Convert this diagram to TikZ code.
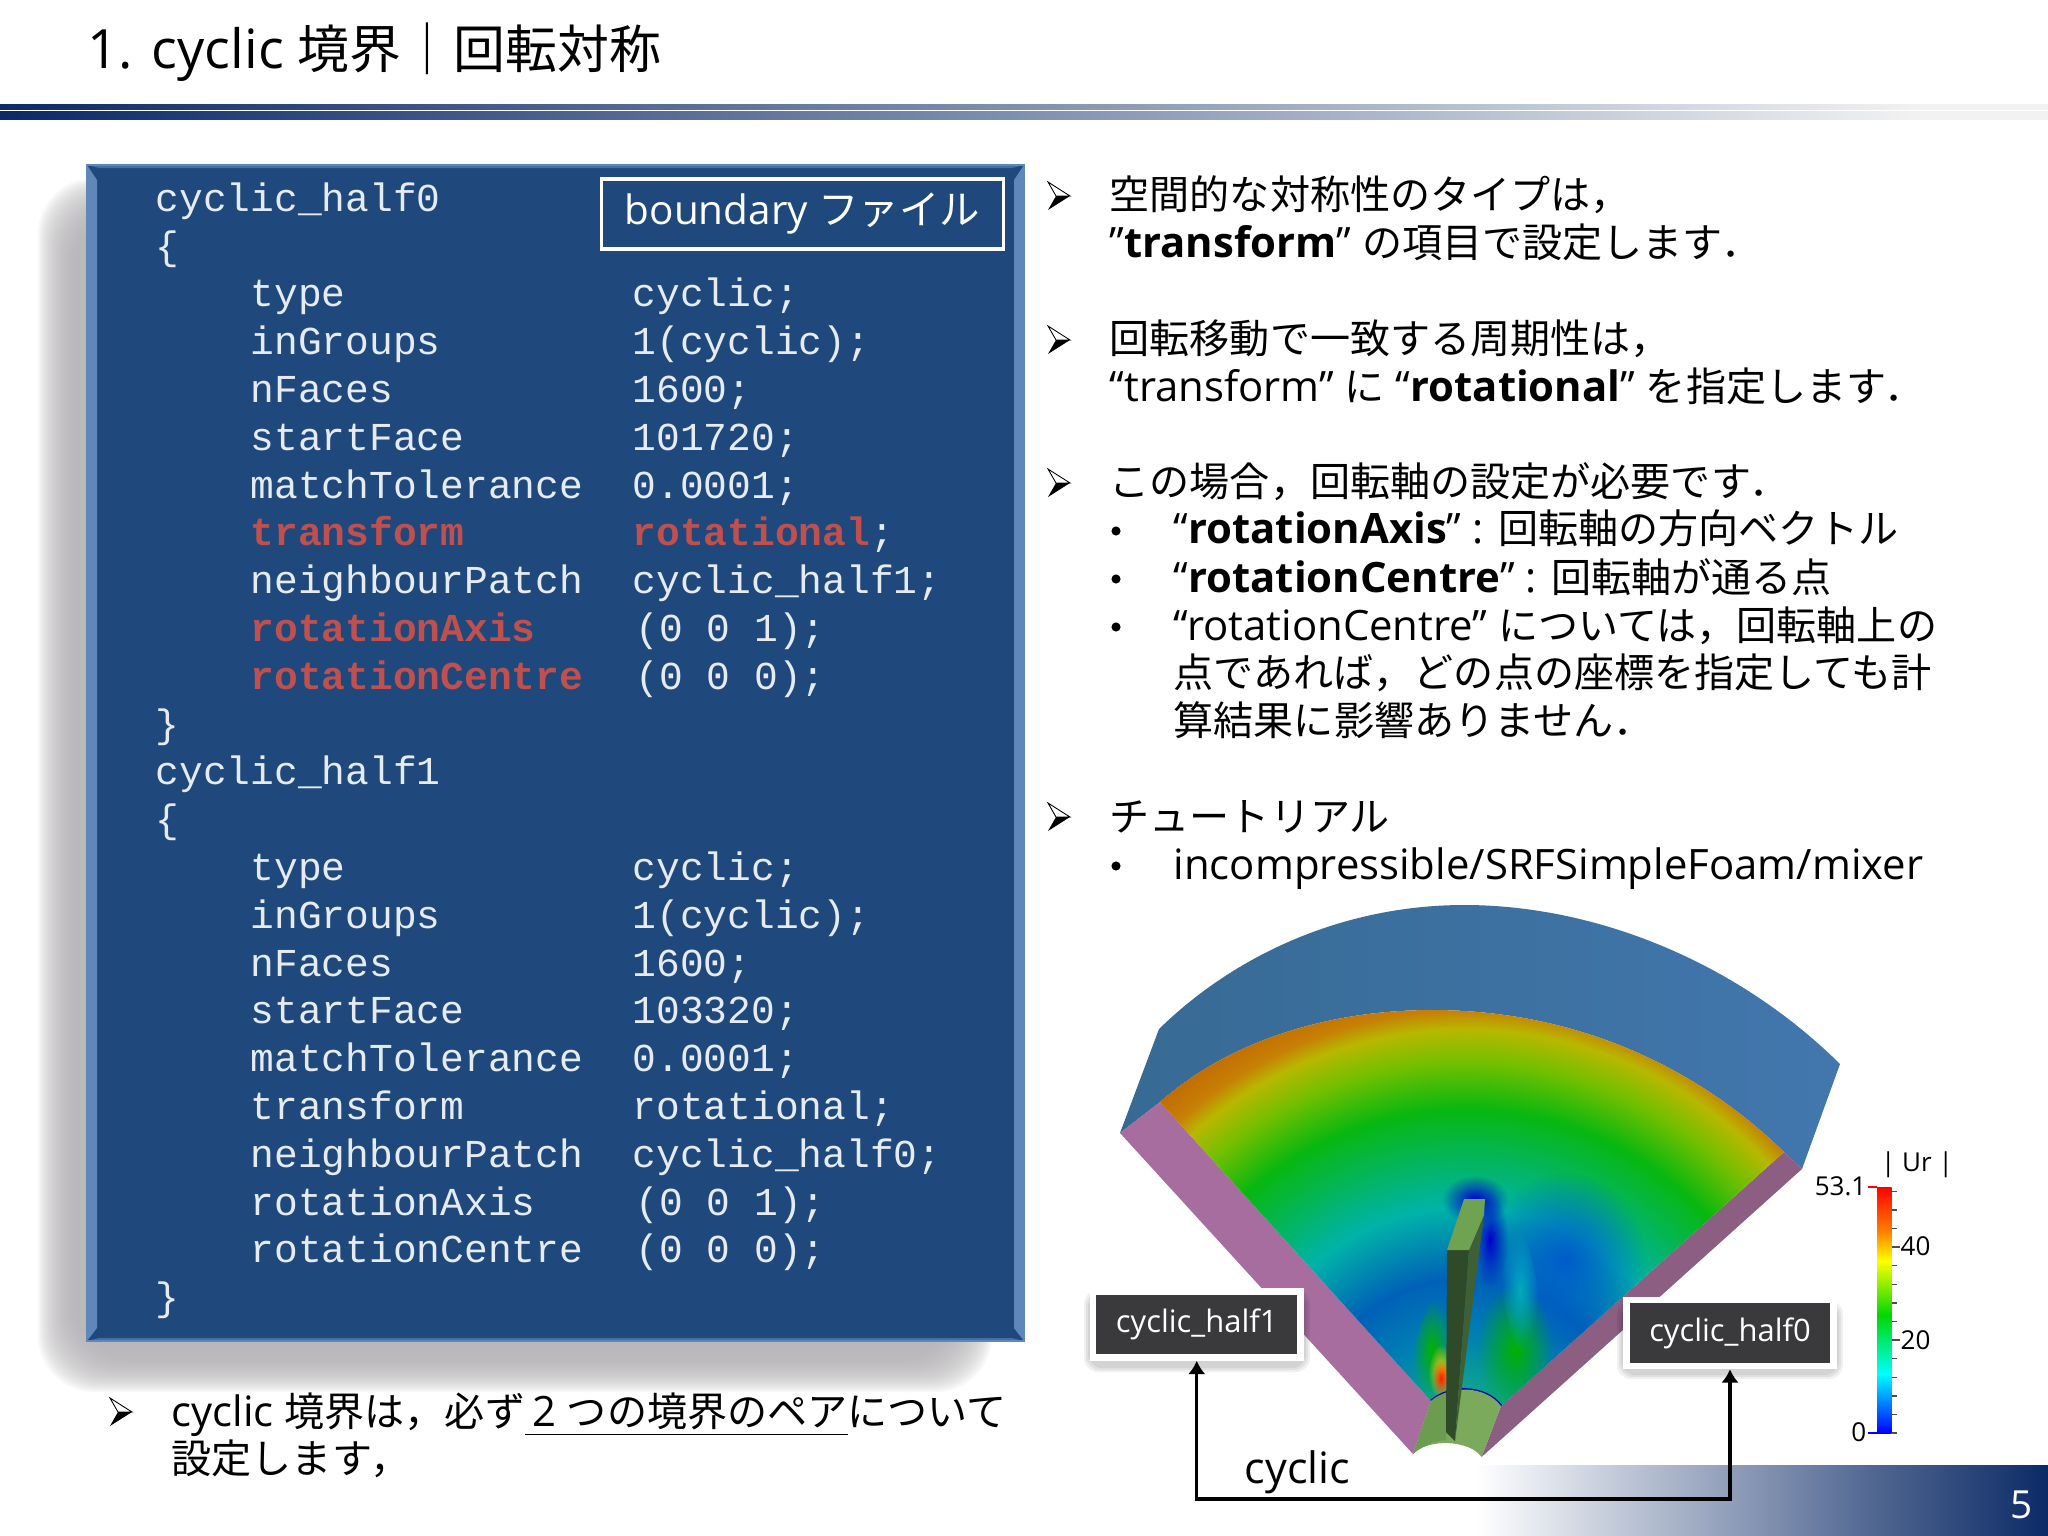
\documentclass[tikz,border=0pt]{standalone}
\usepackage{fontspec}
\setmainfont{Open Sans}
\setmonofont{Liberation Mono}
\newfontfamily\cjk[Scale=0.958]{Noto Sans CJK JP}
\usetikzlibrary{arrows.meta,fadings}
\pgfdeclareradialshading{softshade}{\pgfpoint{0bp}{0bp}}{color(0bp)=(white); color(18bp)=(black); color(50bp)=(black)}
\pgfdeclarefading{softblob}{\pgfuseshading{softshade}}
\definecolor{navy}{HTML}{0B2A66}
\definecolor{panel}{HTML}{1F497D}
\definecolor{bevel}{HTML}{5F87BA}
\definecolor{codered}{HTML}{C0504D}
\definecolor{codewhite}{HTML}{E6EBF2}
\definecolor{shadowc}{HTML}{B5B2B5}
\definecolor{wallL}{HTML}{376A93}
\definecolor{wallR}{HTML}{4277AE}
\definecolor{pinkL}{HTML}{A76D9E}
\definecolor{pinkR}{HTML}{8C5F82}
\definecolor{labeldark}{HTML}{3A3A3C}
\definecolor{bladeA}{HTML}{2F4A28}
\definecolor{bladeB}{HTML}{3E6034}
\definecolor{bladeC}{HTML}{6FA352}
\definecolor{hubc}{HTML}{7BAA5C}
\definecolor{hubd}{HTML}{6C9C50}
\newcommand\J[1]{{\cjk #1}}
\newcommand\Rd[1]{\textcolor{codered}{\bfseries #1}}
\pgfdeclarehorizontalshading{rulefade}{100bp}{color(0bp)=(navy); color(25bp)=(navy); color(50bp)=(navy!52!white); color(72bp)=(white!95!black); color(75bp)=(white!95!black); color(100bp)=(white!95!black)}
\pgfdeclarehorizontalshading{footfade}{100bp}{color(0bp)=(white); color(25bp)=(white); color(47bp)=(navy!45!white); color(60bp)=(navy!72!white); color(75bp)=(navy); color(100bp)=(navy)}
\pgfdeclareverticalshading{rainbowbar}{100bp}{color(0bp)=(blue); color(25bp)=(blue); color(37bp)=(cyan); color(49bp)=(green!85!black); color(60bp)=(yellow); color(66bp)=(orange); color(75bp)=(red); color(100bp)=(red)}
\pgfdeclareradialshading{fieldshade}{\pgfpoint{0bp}{0bp}}{%
 rgb(0bp)=(0.10,0.62,0.50);
 rgb(2.5bp)=(0.05,0.65,0.55);
 rgb(5.5bp)=(0.0,0.50,0.70);
 rgb(8.5bp)=(0.0,0.38,0.72);
 rgb(12.25bp)=(0.0,0.70,0.66);
 rgb(17.5bp)=(0.03,0.72,0.06);
 rgb(20bp)=(0.45,0.75,0.0);
 rgb(21.75bp)=(0.72,0.72,0.0);
 rgb(22.75bp)=(0.78,0.50,0.02);
 rgb(25bp)=(0.75,0.38,0.0);
 rgb(50bp)=(0.75,0.38,0.0)}
\tikzset{
 x=0.01cm,y=-0.01cm,
 codeline/.style={anchor=base west,inner sep=0pt,text=codewhite,font=\ttfamily\fontsize{11.25}{13}\selectfont},
 bodyline/.style={anchor=base west,inner sep=0pt,text=black,font=\fontsize{11.9}{14}\selectfont},
 tag/.style={fill=labeldark,draw=white,line width=1.85pt,text=white,minimum width=2.07cm,minimum height=0.66cm,inner sep=0pt,font=\fontsize{8.8}{11}\selectfont},
 scaletext/.style={anchor=base,inner sep=0pt,text=black,font=\fontsize{7.4}{9}\selectfont},
 arrowbullet/.pic={
  \fill[white] (0,-14) -- (22,0) -- (8,0) -- cycle;
  \draw[line width=0.25pt] (0,-14) -- (22,0) -- (8,0) -- cycle;
  \fill[black] (0,14) -- (22,0) -- (8,0) -- cycle;
 },
 dot/.style={circle,fill=black,inner sep=0pt,minimum size=2.6pt},
}
\begin{document}
\begin{tikzpicture}
\useasboundingbox (0,0) rectangle (2048,1536);
\fill[white] (0,0) rectangle (2048,1536);
% header
\node[anchor=base west,inner sep=0pt,font=\fontsize{15.4}{18}\selectfont] (title) at (87,68) {1. cyclic \J{境界｜回転対称}};
\shade[shading=rulefade] (0,104) rectangle (2048,109);
\shade[shading=rulefade] (0,111) rectangle (2048,119.5);
% footer
\shade[shading=footfade] (1476,1465) rectangle (2048,1536);
\node[anchor=base,inner sep=0pt,text=white,font=\fontsize{11}{13}\selectfont] (pageno) at (2022,1518) {5};
% panel shadow
\foreach \s in {0,2,...,36}{
 \fill[shadowc,fill opacity=0.1,rounded corners=16] ({38+\s},{178+\s}) rectangle ({992-\s},{1392-\s});
}
% panel
\fill[panel] (87,165) rectangle (1024,1341);
\fill[bevel] (87,165) -- (97,180) -- (97,1328) -- (87,1341) -- cycle;
\fill[bevel] (1024,165) -- (1014,180) -- (1014,1328) -- (1024,1341) -- cycle;
\fill[bevel!60!panel] (87,165) -- (99,168) -- (1012,168) -- (1024,165) -- cycle;
\fill[bevel!60!panel] (87,1341) -- (99,1338) -- (1012,1338) -- (1024,1341) -- cycle;
\draw[bevel,line width=0.4pt] (87,165) rectangle (1024,1341);
% code
\foreach \i/\t in {0/cyclic\_half0,1/\{,11/\},12/cyclic\_half1,13/\{,23/\}}{
 \pgfmathsetmacro\yy{211.3+47.8*\i}
 \node[codeline] (h\i) at (155,\yy) {\t};
}
\foreach \i/\k/\v in {
 2/type/cyclic;,
 3/inGroups/1(cyclic);,
 4/nFaces/1600;,
 5/startFace/101720;,
 6/matchTolerance/0.0001;,
 7/\Rd{transform}/\Rd{rotational};,
 8/neighbourPatch/cyclic\_half1;,
 14/type/cyclic;,
 15/inGroups/1(cyclic);,
 16/nFaces/1600;,
 17/startFace/103320;,
 18/matchTolerance/0.0001;,
 19/transform/rotational;,
 20/neighbourPatch/cyclic\_half0;}{
 \pgfmathsetmacro\yy{211.3+47.8*\i}
 \node[codeline] (k\i) at (250,\yy) {\k};
 \node[codeline] (v\i) at (632,\yy) {\v};
}
\foreach \i/\k/\v in {
 9/\Rd{rotationAxis}/{(0 0 1);},
 10/\Rd{rotationCentre}/{(0 0 0);},
 21/rotationAxis/{(0 0 1);},
 22/rotationCentre/{(0 0 0);}}{
 \pgfmathsetmacro\yy{211.3+47.8*\i}
 \node[codeline] (k\i) at (250,\yy) {\k};
 \node[codeline] (v\i) at (635,\yy) {\v};
}
\node[draw=white,line width=0.9pt,text=white,minimum width=4.01cm,minimum height=0.7cm,inner sep=0pt,font=\fontsize{11.5}{14}\selectfont] (bfile) at (802.5,214) {boundary {\fontsize{12}{14}\selectfont\J{ファイル}}};
% bottom-left text
\pic at (110,1412) {arrowbullet};
\node[bodyline] (b1) at (171,1426) {cyclic \J{境界は，必ず}\underline{\,2 \J{つの境界のペア}}\J{について}};
\node[bodyline] (b2) at (171,1473) {\J{設定します，}};
% right text
\pic at (1048,196) {arrowbullet};
\node[bodyline] (r1) at (1109,209) {\J{空間的な対称性のタイプは，}};
\node[bodyline] (r2) at (1109,257) {”\textbf{transform}” \J{の項目で設定します．}};
\pic at (1048,340) {arrowbullet};
\node[bodyline] (r3) at (1109,353) {\J{回転移動で一致する周期性は，}};
\node[bodyline] (r4) at (1109,401) {“transform” \J{に} “\textbf{rotational}” \J{を指定します．}};
\pic at (1048,483) {arrowbullet};
\node[bodyline] (r5) at (1109,496) {\J{この場合，回転軸の設定が必要です．}};
\node[dot] (d1) at (1116,531) {};
\node[bodyline] (r6) at (1173,543) {“\textbf{rotationAxis}” : \J{回転軸の方向ベクトル}};
\node[dot] (d2) at (1116,579) {};
\node[bodyline] (r7) at (1173,592) {“\textbf{rotationCentre}” : \J{回転軸が通る点}};
\node[dot] (d3) at (1116,627) {};
\node[bodyline] (r8) at (1173,640) {“rotationCentre” \J{については，回転軸上の}};
\node[bodyline] (r9) at (1173,687) {\J{点であれば，どの点の座標を指定しても計}};
\node[bodyline] (r10) at (1173,735) {\J{算結果に影響ありません．}};
\pic at (1048,817) {arrowbullet};
\node[bodyline] (r11) at (1109,831) {\J{チュートリアル}};
\node[dot] (d4) at (1116,866) {};
\node[bodyline] (r12) at (1173,879) {incompressible/SRFSimpleFoam/mixer};
% mixer: outer wall
\shade[left color=wallL,right color=wallR]
 (1159,1029) .. controls (1240,950) and (1350,905) .. (1464,905)
 .. controls (1600,905) and (1740,965) .. (1840,1064)
 -- (1802,1169) -- (1784,1152)
 .. controls (1700,1070) and (1580,1010) .. (1432,1010)
 .. controls (1330,1010) and (1230,1040) .. (1160,1102)
 -- (1120,1133) -- cycle;
% mixer: side faces
\fill[pinkL] (1120,1133) -- (1160,1102) -- (1431,1401) -- (1413,1454) -- cycle;
\fill[pinkR] (1802,1169) -- (1784,1152) -- (1501,1406) -- (1481.5,1457) -- cycle;
% mixer: colour field
\begin{scope}
\clip (1160,1102) .. controls (1230,1040) and (1330,1010) .. (1432,1010)
 .. controls (1580,1010) and (1700,1070) .. (1784,1152)
 -- (1501,1406) .. controls (1485,1385) and (1450,1385) .. (1431,1401) -- cycle;
\shade[shading=fieldshade] (1465,1438) circle (470);
\fill[rotate around={-60:(1565,1260)},blue!55!cyan!80!black,path fading=softblob] (1565,1260) ellipse (140 and 85);
\fill[rotate around={-100:(1515,1350)},green!70!black,path fading=softblob] (1515,1350) ellipse (90 and 45);
\fill[cyan!70!green,path fading=softblob,rotate around={-80:(1520,1290)}] (1520,1290) ellipse (85 and 18);
\fill[blue!80!black,path fading=softblob] (1475,1200) ellipse (46 and 34);
\fill[blue!80!black,path fading=softblob,rotate around={-85:(1490,1240)}] (1490,1240) ellipse (65 and 22);
\fill[green!70!black,path fading=softblob,rotate around={75:(1432,1350)}] (1432,1350) ellipse (70 and 18);
\fill[yellow!85!red,path fading=softblob,rotate around={75:(1441,1372)}] (1441,1372) ellipse (38 and 13);
\fill[red!80!orange,path fading=softblob,rotate around={75:(1441,1378)}] (1441,1378) ellipse (24 and 9);
\end{scope}
% mixer: hub
\draw[blue!70!black,line width=0.8pt] (1431,1401) .. controls (1450,1385) and (1485,1385) .. (1501,1406);
\fill[hubc] (1431,1401) .. controls (1450,1385) and (1485,1385) .. (1501,1406)
 -- (1481.5,1457) .. controls (1470,1440) and (1428,1438) .. (1413,1454) -- cycle;
\fill[hubd] (1431,1401) .. controls (1437,1396) and (1442,1394) .. (1448,1392) -- (1446,1440) .. controls (1432,1441) and (1421,1447) .. (1413,1454) -- cycle;
% mixer: blade
\fill[bladeA] (1447,1250) -- (1469,1250) -- (1455,1441) -- (1446,1432) -- cycle;
\fill[bladeB] (1469,1250) -- (1484,1215) -- (1455,1441) -- cycle;
\fill[bladeC] (1464,1199) -- (1485,1199) -- (1484,1215) -- (1469,1250) -- (1447,1250) -- cycle;
% colour bar
\shade[shading=rainbowbar] (1877,1187) rectangle (1891.5,1433);
\foreach \n in {0,...,13}{
 \draw[black!70,line width=0.4pt] ({1891.5},{1433-18.6*\n}) -- ({1897},{1433-18.6*\n});
}
\draw[red,line width=0.4pt] (1868,1187) -- (1877,1187);
\draw[blue,line width=0.4pt] (1868,1433) -- (1877,1433);
\draw[black!70,line width=0.4pt] (1891.5,1247) -- (1900,1247);
\draw[black!70,line width=0.4pt] (1891.5,1340) -- (1900,1340);
\node[scaletext] (sctitle) at (1917,1171) {| Ur |};
\node[scaletext,anchor=base east] (s53) at (1867,1195) {53.1};
\node[scaletext,anchor=base west] (s40) at (1900,1255) {40};
\node[scaletext,anchor=base west] (s20) at (1900,1349) {20};
\node[scaletext,anchor=base east] (s0) at (1867,1441) {0};
% labels
\foreach \s in {0,2,4}{
 \fill[black,fill opacity=0.06,rounded corners=4] ({1084+\s},{1290+\s}) rectangle ({1310-\s},{1372-\s});
 \fill[black,fill opacity=0.06,rounded corners=4] ({1617+\s},{1300+\s}) rectangle ({1843-\s},{1379-\s});
}
\node[tag] (half1) at (1196.75,1324.5) {cyclic\_half1};
\node[tag] (half0) at (1730,1333) {cyclic\_half0};
\coordinate (busL) at (1196.75,1499);
\coordinate (busR) at (1730,1499);
\draw[black,line width=0.9pt,{Latex[length=3.8pt,width=5pt]}-{Latex[length=3.8pt,width=5pt]}] (half1.south) -- (busL) -- (busR) -- (half0.south);
\node[anchor=base west,inner sep=0pt,font=\fontsize{12.3}{14}\selectfont] (cyc) at (1244,1483) {cyclic};
\end{tikzpicture}
\end{document}
